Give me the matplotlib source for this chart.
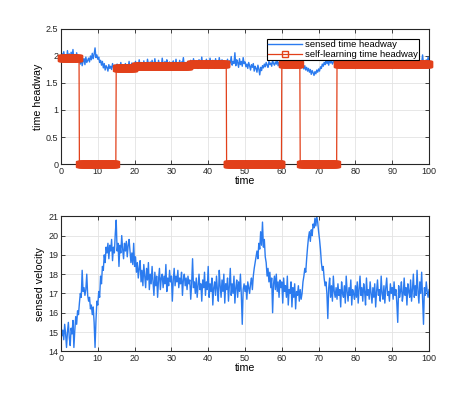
import numpy as np
import matplotlib
matplotlib.use("Agg")
import matplotlib.pyplot as plt

plt.rcParams['font.family'] = ['Liberation Sans', 'DejaVu Sans']

# sensed time headway, sampled every 0.25 s from 0 to 100
headway = [
    1.98, 2.05, 1.92, 2.08, 1.96, 2.02, 1.90, 2.10, 1.95, 2.04, 1.93, 2.07, 1.97, 2.12, 1.94, 2.01, 1.89, 2.06, 1.96, 2.00,
    1.93, 1.85, 1.97, 1.82, 1.90, 1.95, 1.84, 1.98, 1.88, 1.92, 1.96, 1.89, 2.00, 1.93, 2.05, 1.95, 2.03, 2.15, 1.97, 2.02,
    1.94, 1.98, 1.88, 1.92, 1.83, 1.90, 1.78, 1.86, 1.74, 1.82, 1.79, 1.72, 1.84, 1.77, 1.81, 1.75, 1.86, 1.79, 1.83, 1.76,
    1.80, 1.85, 1.74, 1.82, 1.78, 1.88, 1.76, 1.83, 1.73, 1.81, 1.86, 1.77, 1.84, 1.79, 1.90, 1.75, 1.82, 1.87, 1.78, 1.85,
    1.83, 1.90, 1.77, 1.86, 1.81, 1.93, 1.79, 1.88, 1.84, 1.76, 1.91, 1.82, 1.87, 1.78, 1.94, 1.85, 1.80, 1.89, 1.83, 1.92,
    1.86, 1.79, 1.95, 1.84, 1.88, 1.77, 1.92, 1.83, 1.87, 1.80, 1.96, 1.85, 1.81, 1.90, 1.78, 1.93, 1.86, 1.82, 1.89, 1.84,
    1.88, 1.76, 1.91, 1.85, 1.82, 1.94, 1.80, 1.87, 1.83, 1.92, 1.78, 1.89, 1.86, 1.97, 1.81, 1.88, 1.84, 1.75, 1.90, 1.86,
    1.83, 1.92, 1.87, 1.79, 1.95, 1.85, 1.81, 1.90, 1.88, 1.77, 1.93, 1.86, 1.84, 1.98, 1.82, 1.89, 1.87, 1.80, 1.94, 1.85,
    1.90, 1.83, 1.96, 1.86, 1.81, 1.92, 1.88, 1.78, 1.95, 1.85, 1.89, 1.82, 1.97, 1.87, 1.84, 1.93, 1.80, 1.91, 1.86, 1.88,
    1.85, 1.94, 1.80, 1.91, 1.87, 1.99, 1.83, 1.90, 1.86, 2.06, 1.82, 1.93, 1.88, 1.79, 1.95, 1.84, 1.90, 1.81, 1.97, 1.86,
    1.89, 1.80, 1.85, 1.77, 1.88, 1.82, 1.74, 1.84, 1.79, 1.86, 1.72, 1.81, 1.77, 1.70, 1.83, 1.76, 1.65, 1.79, 1.73, 1.82,
    1.78, 1.85, 1.80, 1.88, 1.83, 1.79, 1.90, 1.84, 1.87, 1.81, 1.92, 1.86, 1.83, 1.89, 1.85, 1.93, 1.82, 1.88, 1.86, 1.91,
    1.87, 1.83, 1.92, 1.85, 1.89, 1.94, 1.84, 1.90, 1.86, 1.96, 1.83, 1.88, 1.91, 1.85, 1.80, 1.87, 1.82, 1.89, 1.84, 1.81,
    1.85, 1.78, 1.83, 1.80, 1.76, 1.82, 1.74, 1.79, 1.72, 1.77, 1.70, 1.75, 1.66, 1.73, 1.69, 1.64, 1.71, 1.67, 1.74, 1.70,
    1.76, 1.72, 1.80, 1.77, 1.85, 1.81, 1.88, 1.84, 1.93, 1.86, 1.90, 1.83, 1.95, 1.87, 1.91, 1.85, 1.89, 1.93, 1.86, 1.90,
    1.88, 1.84, 1.92, 1.86, 1.96, 1.83, 1.90, 1.87, 1.79, 1.93, 1.85, 1.89, 1.82, 1.95, 1.88, 1.84, 1.91, 1.80, 1.87, 1.94,
    1.86, 1.81, 1.92, 1.88, 1.84, 1.97, 1.85, 1.79, 1.90, 1.87, 1.83, 1.94, 1.86, 1.89, 1.78, 1.92, 1.85, 1.88, 1.82, 1.95,
    1.87, 1.83, 1.90, 1.85, 1.98, 1.84, 1.89, 1.80, 1.93, 1.86, 1.82, 1.91, 1.88, 1.85, 1.96, 1.83, 1.87, 1.79, 1.92, 1.86,
    1.89, 1.84, 1.95, 1.81, 1.88, 1.86, 1.92, 1.78, 1.90, 1.85, 1.97, 1.83, 1.87, 1.91, 1.84, 1.89, 1.80, 1.94, 1.86, 1.88,
    1.83, 1.92, 1.87, 1.99, 1.84, 1.90, 1.81, 1.88, 1.95, 1.86, 1.82, 1.91, 1.87, 2.02, 1.85, 1.89, 1.80, 1.93, 1.86, 1.98,
    1.88,
]

# sensed velocity, sampled every 0.25 s from 0 to 100
velocity = [
    15.3, 14.8, 15.1, 14.6, 15.4, 14.9, 14.2, 15.0, 15.5, 14.7, 14.3, 15.2, 14.9, 15.6, 14.2, 15.1, 15.8, 15.4, 16.1, 15.9,
    16.5, 17.0, 16.8, 18.2, 17.1, 17.3, 16.9, 17.2, 18.0, 16.9, 16.6, 16.8, 16.2, 16.4, 15.9, 16.3, 15.5, 14.2, 15.6, 16.6,
    16.4, 17.1, 16.8, 17.9, 17.5, 18.4, 18.2, 19.0, 18.6, 19.4, 19.1, 19.6, 18.8, 19.5, 19.2, 19.8, 18.7, 19.4, 19.1, 20.1,
    20.8, 19.2, 19.6, 18.4, 19.5, 19.1, 20.0, 19.3, 18.8, 19.6, 19.2, 19.7, 18.9, 19.5, 19.8, 19.2, 18.6, 19.1, 18.5, 19.6,
    18.4, 18.9, 18.1, 18.6, 17.8, 18.3, 18.7, 17.6, 18.2, 17.4, 18.5, 17.9, 17.3, 18.3, 17.7, 18.6, 17.2, 18.0, 17.5, 18.4,
    17.6, 16.9, 18.1, 17.4, 17.9, 16.8, 17.7, 18.3, 17.2, 17.8, 18.0, 17.3, 17.9, 17.5, 18.5, 17.1, 17.8, 17.4, 18.2, 17.6,
    17.9, 16.6, 17.7, 18.3, 17.4, 17.9, 17.6, 18.2, 17.3, 17.8, 17.5, 18.1, 16.9, 17.7, 18.0, 17.4, 17.8, 17.2, 17.9, 17.5,
    17.7, 16.7, 17.5, 18.8, 17.3, 17.6, 17.0, 17.8, 16.8, 17.4, 18.0, 17.2, 17.5, 16.6, 17.7, 17.3, 18.1, 16.9, 17.6, 17.2,
    18.4, 16.8, 17.5, 17.1, 17.8, 16.4, 17.3, 17.6, 16.9, 17.9, 17.2, 16.6, 18.2, 17.4, 16.8, 17.7, 17.1, 18.0, 16.5, 17.5,
    17.2, 17.8, 16.6, 17.4, 18.3, 16.9, 17.5, 17.0, 17.9, 16.5, 17.3, 17.7, 16.8, 17.6, 17.1, 18.0, 16.9, 15.4, 17.2, 17.5,
    17.1, 17.4, 16.7, 17.6, 17.3, 17.0, 17.5, 17.8, 17.2, 17.9, 18.3, 18.6, 18.9, 19.2, 18.8, 19.6, 19.3, 20.2, 19.5, 20.7,
    19.4, 19.8, 18.9, 18.6, 17.9, 18.3, 17.6, 18.1, 17.3, 17.8, 16.0, 17.5, 17.9, 17.2, 18.0, 17.1, 17.6, 16.8, 17.7, 17.3,
    17.6, 16.5, 17.8, 17.1, 17.4, 16.8, 17.9, 16.4, 17.2, 17.0, 17.6, 16.3, 17.3, 16.8, 17.5, 16.2, 17.1, 16.9, 17.4, 16.6,
    17.2, 16.7, 17.0, 17.6, 17.9, 18.3, 18.1, 18.8, 19.4, 19.9, 20.2, 19.7, 20.3, 20.0, 20.6, 20.4, 20.9, 20.5, 21.0, 20.7,
    20.2, 19.8, 19.3, 18.6, 18.2, 18.4, 17.8, 17.4, 17.6, 17.0, 15.7, 17.3, 17.8, 16.8, 17.4, 16.6, 17.9, 17.1, 16.8, 17.3,
    16.7, 17.5, 16.9, 17.2, 16.3, 17.6, 17.0, 16.8, 17.4, 16.5, 17.9, 17.1, 16.6, 17.3, 16.9, 17.7, 16.4, 17.2, 17.0, 16.7,
    17.4, 16.8, 17.6, 16.5, 17.2, 17.9, 16.9, 17.3, 16.6, 17.5, 17.1, 16.4, 17.8, 16.9, 17.2, 16.7, 17.6, 17.0, 16.5, 17.3,
    16.8, 17.5, 16.3, 17.1, 17.7, 16.9, 17.2, 16.6, 17.9, 17.0, 16.7, 17.4, 16.5, 17.3, 17.8, 16.9, 17.1, 16.6, 17.5, 17.0,
    17.3, 16.7, 17.6, 16.9, 17.2, 16.5, 15.5, 17.4, 16.8, 17.1, 17.6, 16.6, 17.0, 17.8, 16.9, 17.3, 16.4, 17.5, 17.1, 16.8,
    17.7, 16.6, 17.2, 18.0, 16.8, 17.4, 16.9, 18.2, 17.1, 16.5, 17.6, 17.0, 18.1, 16.7, 15.4, 17.3, 16.9, 17.6, 17.1, 16.8,
    17.2,
]

# self-learning time headway: piecewise constant segments
seg_start = [0, 5, 15, 20, 35, 45, 60, 65, 75]
seg_end = [5, 15, 20, 35, 45, 60, 65, 75, 100]
seg_value = [1.97, 0, 1.78, 1.82, 1.85, 0, 1.85, 0, 1.85]

t = np.linspace(0, 100, len(headway))
t_sl = np.round(np.arange(0, 100.001, 0.1), 2)
sl = np.zeros_like(t_sl)
for s, e, v in zip(seg_start, seg_end, seg_value):
    sl[(t_sl >= s) & (t_sl < e)] = v
sl[-1] = seg_value[-1]

blue = '#2b7bef'
red = '#e2401a'

fig = plt.figure(figsize=(4.74, 3.95), dpi=100)
ax1 = fig.add_axes([0.1287, 0.5848, 0.7764, 0.3418])
ax2 = fig.add_axes([0.1287, 0.1106, 0.7764, 0.3418])

ax1.plot(t, headway, color=blue, lw=1.0, label='sensed time headway')
ax1.plot(t_sl, sl, color=red, lw=0.9, marker='s', ms=5, mfc='none', mew=1.0,
         label='self-learning time headway', clip_on=False, zorder=3)
ax1.set_ylim(0, 2.5)
ax1.set_yticks([0, 0.5, 1, 1.5, 2, 2.5])
ax1.set_yticklabels(['0', '0.5', '1', '1.5', '2', '2.5'])
ax1.set_ylabel('time headway', fontsize=7.7, labelpad=2)
leg = ax1.legend(loc='upper right', bbox_to_anchor=(0.973, 0.926), fontsize=6.8,
                 fancybox=False, framealpha=1, edgecolor='black', handlelength=3.6,
                 borderpad=0.15, labelspacing=0.05, handletextpad=0.3, borderaxespad=0)
leg.get_frame().set_linewidth(0.8)
leg.set_zorder(5)
leg.legend_handles[1].set_markersize(4)

ax2.plot(t, velocity, color=blue, lw=1.0)
ax2.set_ylim(14, 21)
ax2.set_yticks(range(14, 22))
ax2.set_ylabel('sensed velocity', fontsize=7.7, labelpad=2)

for ax in (ax1, ax2):
    ax.set_xlim(0, 100)
    ax.set_xticks(range(0, 101, 10))
    ax.set_xlabel('time', fontsize=7.7, labelpad=0)
    ax.grid(True, color='#e3e3e3', lw=0.6)
    ax.set_axisbelow(True)
    ax.tick_params(direction='in', length=3, width=0.6, labelsize=6.5, pad=2,
                   top=True, right=True, colors='#262626')
    for sp in ax.spines.values():
        sp.set_color('#262626')
        sp.set_linewidth(0.8)

fig.savefig('out.png', dpi=100)
